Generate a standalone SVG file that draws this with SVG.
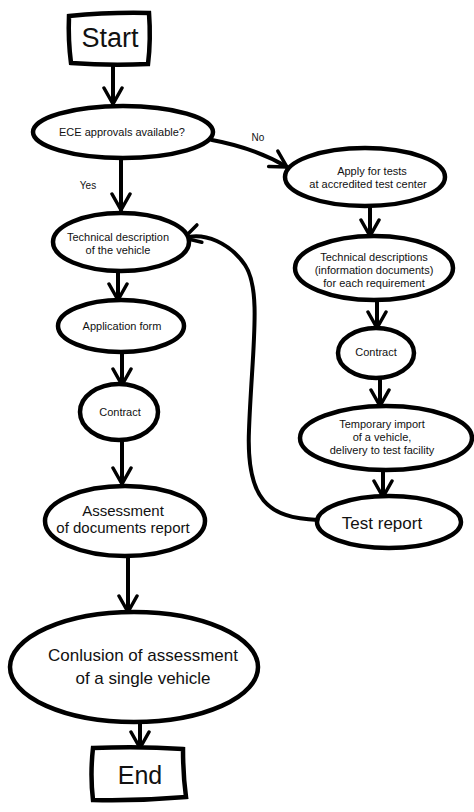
<svg xmlns="http://www.w3.org/2000/svg" width="474" height="812" viewBox="0 0 474 812">
<style>
.n{fill:#fff;stroke:#000;stroke-width:4.5}
.c{fill:none;stroke:#000;stroke-width:4;stroke-linecap:round}
text{font-family:"Liberation Sans",Arial,sans-serif;fill:#111;text-anchor:middle;dominant-baseline:central}
.s{font-size:11px}
.m{font-size:10px}
</style>
<defs>
<marker id="ah" viewBox="-18 -12 20 24" refX="0" refY="0" markerWidth="20" markerHeight="24" markerUnits="userSpaceOnUse" orient="auto">
<path d="M-16,-9 L0,0 L-16,9" fill="none" stroke="#000" stroke-width="3.5" stroke-linecap="round" stroke-linejoin="round"/>
</marker>
</defs>
<g id="connectors">
<path class="c" d="M113,66 L113,104" marker-end="url(#ah)"/>
<path class="c" d="M121,159 L121,210" marker-end="url(#ah)"/>
<path class="c" d="M212,140 Q255,148 287,167" marker-end="url(#ah)"/>
<path class="c" d="M370,208 L370,236" marker-end="url(#ah)"/>
<path class="c" d="M377,300 L377,328" marker-end="url(#ah)"/>
<path class="c" d="M380,378 L380,406" marker-end="url(#ah)"/>
<path class="c" d="M383,471 L383,497" marker-end="url(#ah)"/>
<path class="c" d="M318,520 C268,518 246,500 249,430 C252,350 262,290 245,265 C230,243 205,232 184,238" marker-end="url(#ah)"/>
<path class="c" d="M118,272 L118,300" marker-end="url(#ah)"/>
<path class="c" d="M122,352 L122,385" marker-end="url(#ah)"/>
<path class="c" d="M122,440 L122,484" marker-end="url(#ah)"/>
<path class="c" d="M128,556 L128,612" marker-end="url(#ah)"/>
<path class="c" d="M140,722 L140,748" marker-end="url(#ah)"/>
<text class="m" x="88" y="185">Yes</text>
<text class="m" x="258" y="137">No</text>
</g>
<g id="start">
<path class="n" d="M69,16 Q110,12 149,13 Q151,40 148,64 Q110,66 71,63 Q68,40 69,16 Z"/>
<text x="110" y="38" font-size="27">Start</text>
</g>
<g id="ece">
<ellipse class="n" cx="123" cy="132" rx="90" ry="26"/>
<text class="s" x="122" y="132">ECE approvals available?</text>
</g>
<g id="apply">
<ellipse class="n" cx="365" cy="177" rx="80" ry="29"/>
<text class="s" x="372" y="171">Apply for tests</text>
<text class="s" x="368" y="184">at accredited test center</text>
</g>
<g id="techdescs">
<ellipse class="n" cx="374" cy="268" rx="79" ry="32"/>
<text class="s" x="374" y="257">Technical descriptions</text>
<text class="s" x="374" y="270">(information documents)</text>
<text class="s" x="374" y="283">for each requirement</text>
</g>
<g id="contract2">
<ellipse class="n" cx="376" cy="353" rx="38" ry="25"/>
<text class="s" x="376" y="352">Contract</text>
</g>
<g id="temporary">
<ellipse class="n" cx="386" cy="438" rx="86" ry="32"/>
<text class="s" x="382" y="424">Temporary import</text>
<text class="s" x="382" y="437">of a vehicle,</text>
<text class="s" x="382" y="450">delivery to test facility</text>
</g>
<g id="testreport">
<ellipse class="n" cx="389" cy="522" rx="72" ry="26"/>
<text x="382" y="523" font-size="17">Test report</text>
</g>
<g id="techdesc">
<ellipse class="n" cx="121" cy="242" rx="68" ry="29"/>
<text class="s" x="118" y="237">Technical description</text>
<text class="s" x="118" y="250">of the vehicle</text>
</g>
<g id="appform">
<ellipse class="n" cx="121" cy="326" rx="63" ry="26"/>
<text class="s" x="122" y="326">Application form</text>
</g>
<g id="contract1">
<ellipse class="n" cx="119" cy="412" rx="39" ry="28"/>
<text class="s" x="120" y="412">Contract</text>
</g>
<g id="assessment">
<ellipse class="n" cx="125" cy="521" rx="80" ry="35"/>
<text x="123" y="510" font-size="15">Assessment</text>
<text x="123" y="527" font-size="15">of documents report</text>
</g>
<g id="conclusion">
<ellipse class="n" cx="134" cy="667" rx="124" ry="55"/>
<text x="143" y="655" font-size="17">Conlusion of assessment</text>
<text x="143" y="678" font-size="17">of a single vehicle</text>
</g>
<g id="end">
<path class="n" d="M93,748 Q140,746 183,749 Q183,775 186,797 Q140,801 93,800 Q90,775 93,748 Z"/>
<text x="140" y="775" font-size="25">End</text>
</g>
</svg>
